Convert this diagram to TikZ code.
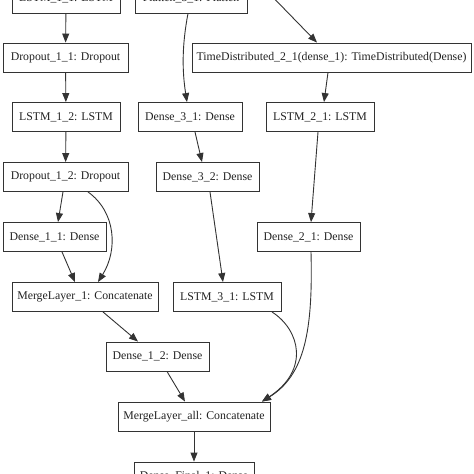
\documentclass[tikz,border=0pt]{standalone}
\usepackage{fontspec}
\setmainfont{Liberation Serif}
\usetikzlibrary{arrows.meta}
\definecolor{linec}{HTML}{333333}
\definecolor{textc}{HTML}{222222}
\begin{document}
\begin{tikzpicture}[x=1pt,y=-1pt,
  box/.style={draw=linec, line width=0.9pt, minimum height=29pt, inner sep=0pt, text=textc, font=\fontsize{11.8}{14}\selectfont},
  edge/.style={draw=linec, line width=0.9pt, -{Triangle[length=9pt,width=7pt]}}]
\useasboundingbox (0,0) rectangle (474,474);
\fill[white] (0,0) rectangle (474,474);
\node[box, minimum width=108pt] (a) at (66,-1.5) {LSTM\_1\_1: LSTM};
\node[box, minimum width=112pt] (b) at (191,-1.5) {Flatten\_3\_1: Flatten};
\node[box, minimum width=125pt] (do1) at (65.5,57.5) {Dropout\_1\_1: Dropout};
\node[box, minimum width=279pt] (td) at (331.5,57.5) {TimeDistributed\_2\_1(dense\_1): TimeDistributed(Dense)};
\node[box, minimum width=108pt] (l12) at (66,117) {LSTM\_1\_2: LSTM};
\node[box, minimum width=104pt] (d31) at (190,117) {Dense\_3\_1: Dense};
\node[box, minimum width=108pt] (l21) at (320,117) {LSTM\_2\_1: LSTM};
\node[box, minimum width=125pt] (do2) at (65.5,177) {Dropout\_1\_2: Dropout};
\node[box, minimum width=103pt] (d32) at (207.5,177) {Dense\_3\_2: Dense};
\node[box, minimum width=103pt] (d11) at (54.5,237) {Dense\_1\_1: Dense};
\node[box, minimum width=103pt] (d21) at (308.5,237) {Dense\_2\_1: Dense};
\node[box, minimum width=146pt] (m1) at (85,297) {MergeLayer\_1: Concatenate};
\node[box, minimum width=108pt] (l31) at (227,297) {LSTM\_3\_1: LSTM};
\node[box, minimum width=103pt] (d12) at (157.5,356.5) {Dense\_1\_2: Dense};
\node[box, minimum width=152pt] (mall) at (194,416.5) {MergeLayer\_all: Concatenate};
\node[box, minimum width=120pt] (fin) at (194,476.5) {Dense\_Final\_1: Dense};
\coordinate (inp) at (262,-14);

\draw[edge] (a) -- (do1);
\draw[edge] (do1) -- (l12);
\draw[edge] (l12) -- (do2);
\draw[edge] ([xshift=-2.5pt]do2.south) -- ([xshift=3.5pt]d11.north);
\draw[edge] ([xshift=22.5pt]do2.south) .. controls (116,212) and (118,250) .. ([xshift=13pt]m1.north);
\draw[edge] ([xshift=7.5pt]d11.south) -- ([xshift=-10pt]m1.north);
\draw[edge] ([xshift=-3pt]b.south) .. controls (182,45) and (182,70) .. ([xshift=-3pt]d31.north);
\draw[edge] ([xshift=5pt]d31.south) -- ([xshift=-5.5pt]d32.north);
\draw[edge] ([xshift=2.5pt]d32.south) -- ([xshift=-4pt]l31.north);
\draw[edge] (inp) -- ([xshift=-14.5pt]td.north);
\draw[edge] ([xshift=-3.5pt]td.south) -- ([xshift=4pt]l21.north);
\draw[edge] ([xshift=-2pt]l21.south) -- ([xshift=2.5pt]d21.north);
\draw[edge] ([xshift=2.5pt]d21.south) .. controls (313,330) and (305,375) .. ([xshift=68pt]mall.north);
\draw[edge] ([xshift=45pt]l31.south) .. controls (300,330) and (310,370) .. ([xshift=68pt]mall.north);
\draw[edge] ([xshift=18pt]m1.south) -- ([xshift=-19.5pt]d12.north);
\draw[edge] ([xshift=9.5pt]d12.south) -- ([xshift=-9pt]mall.north);
\draw[edge] (mall) -- (fin);
\end{tikzpicture}
\end{document}
